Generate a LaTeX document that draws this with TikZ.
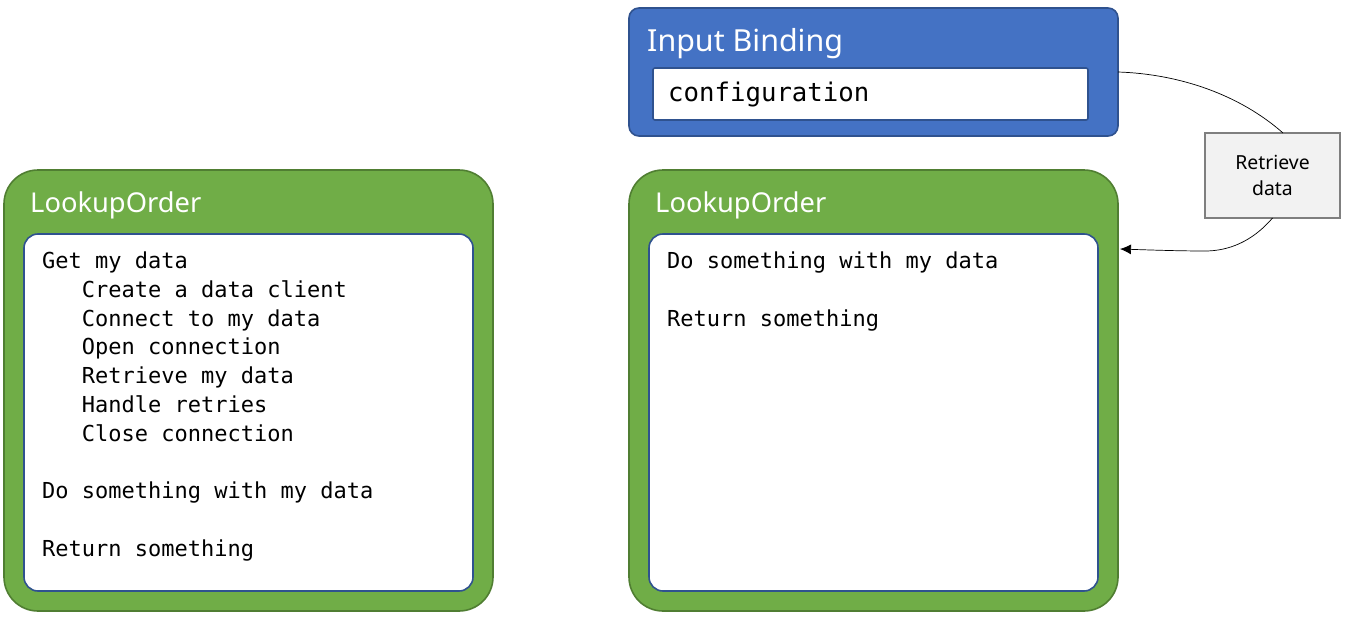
\documentclass[tikz,border=0pt]{standalone}
\usepackage{fontspec}
\setmainfont{Noto Sans}
\newfontfamily\codefont{DejaVu Sans Mono}
\usetikzlibrary{arrows.meta,calc}
\definecolor{greenfill}{HTML}{70AD47}
\definecolor{greenline}{HTML}{507E32}
\definecolor{bluefill}{HTML}{4472C4}
\definecolor{blueline}{HTML}{2F528F}
\definecolor{greyfill}{HTML}{F2F2F2}
\definecolor{greyline}{HTML}{7F7F7F}
\tikzset{
  x=1pt,y=-1pt,
  box/.style={draw,line width=1.6pt,outer sep=0pt,inner sep=0pt,anchor=north west},
  greenbox/.style={box,fill=greenfill,draw=greenline,minimum width=489pt,minimum height=441pt,rounded corners=34pt},
  bluebox/.style={box,fill=bluefill,draw=blueline,minimum width=489pt,minimum height=128pt,rounded corners=10pt},
  whitebox/.style={box,fill=white,draw=blueline,minimum width=449pt,minimum height=357pt,rounded corners=14pt},
  configbox/.style={box,fill=white,draw=blueline,minimum width=435pt,minimum height=52pt,rounded corners=2pt},
  title/.style={anchor=base west,inner sep=0pt,text=white,font=\fontsize{27.3}{30}\selectfont},
  code/.style={anchor=north west,inner sep=0pt,align=left,font=\codefont\fontsize{22}{28.8}\selectfont},
  greybox/.style={box,fill=greyfill,draw=greyline,line width=1.8pt,minimum width=135pt,minimum height=85pt,align=center,font=\fontsize{19.4}{26}\selectfont},
  link/.style={draw=black,line width=0.7pt},
}
\newcommand{\ind}{\hspace*{39.7pt}}
\begin{document}
\begin{tikzpicture}
\useasboundingbox (0,0) rectangle (1347,621);
% left
\node[greenbox] (leftgreen) at (4,170) {};
\node[title] (lefttitle) at (30,212) {LookupOrder};
\node[whitebox] (leftwhite) at (24,234) {};
\node[code] (lefttext) at (42,251.5) {Get my data\\
\ind Create a data client\\
\ind Connect to my data\\
\ind Open connection\\
\ind Retrieve my data\\
\ind Handle retries\\
\ind Close connection\\
~\\
Do something with my data\\
~\\
Return something};
% right
\node[greenbox] (rightgreen) at (629,170) {};
\node[title] (righttitle) at (655,212) {LookupOrder};
\node[whitebox] (rightwhite) at (649,234) {};
\node[code] (righttext) at (667,251.5) {Do something with my data\\
~\\
Return something};
% binding
\node[bluebox] (binding) at (629,8) {};
\node[title,font=\fontsize{30.4}{32}\selectfont] (bindingtitle) at (647,51) {Input Binding};
\node[configbox] (config) at (653,68) {};
\node[code,anchor=base west,font=\codefont\fontsize{25.7}{30}\selectfont] (configtext) at (668,101) {configuration};
% retrieve
\node[greybox] (retrieve) at (1205,133) {Retrieve\\data};
\coordinate (rin) at ($(retrieve.north)+(10.5,0)$);
\coordinate (target) at (1120,249);
\draw[link] (binding.east) .. controls (1180,74) and (1240,95) .. (rin);
\draw[link,-{Latex[length=11pt,width=10pt]}] (retrieve.south) .. controls (1252,242) and (1228,251) .. (1205,251) .. controls (1180,251) and (1150,250) .. (target);
\end{tikzpicture}
\end{document}
